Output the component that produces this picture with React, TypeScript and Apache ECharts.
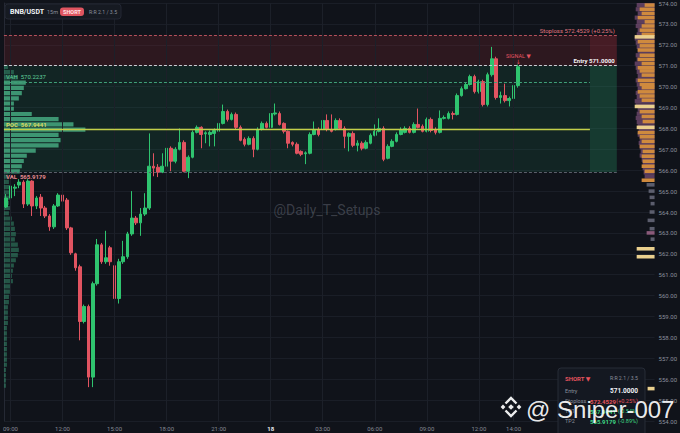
import React, { useEffect, useRef } from 'react';
import * as echarts from 'echarts';

// [open, close, low, high] per 15m candle
const candles: number[][] = [
  [564.24, 564.67, 564.19, 564.86],
  [564.67, 565.24, 564.62, 565.48],
  [565.14, 565.19, 564.76, 565.33],
  [565.29, 565.43, 565.14, 565.57],
  [565.43, 564.38, 564.19, 565.52],
  [564.38, 565.48, 564.29, 565.57],
  [565.48, 564.29, 563.81, 565.52],
  [564.29, 564.67, 564.14, 564.76],
  [564.71, 564.19, 563.81, 564.86],
  [564.19, 563.81, 563.71, 564.29],
  [563.81, 563.29, 563.10, 563.90],
  [563.29, 564.29, 563.19, 564.38],
  [564.29, 564.81, 564.24, 564.90],
  [564.81, 564.52, 564.43, 565.14],
  [564.57, 563.24, 563.14, 564.67],
  [563.24, 562.05, 561.95, 563.29],
  [562.00, 561.33, 561.19, 562.05],
  [561.38, 558.76, 557.86, 561.48],
  [558.76, 559.48, 558.67, 559.57],
  [559.48, 556.10, 555.62, 559.57],
  [556.10, 560.57, 555.62, 560.67],
  [560.57, 562.43, 560.48, 562.71],
  [562.43, 561.62, 561.52, 562.52],
  [561.62, 561.81, 561.52, 563.10],
  [562.29, 561.62, 561.43, 562.38],
  [561.43, 559.86, 559.29, 561.57],
  [559.86, 561.62, 559.62, 561.76],
  [561.62, 561.86, 561.52, 562.62],
  [561.86, 562.95, 561.76, 563.05],
  [562.95, 563.71, 562.86, 565.00],
  [563.71, 563.48, 563.38, 563.81],
  [563.48, 563.90, 562.86, 564.19],
  [563.90, 564.19, 563.81, 564.90],
  [564.19, 566.19, 564.10, 567.76],
  [566.19, 566.10, 565.71, 566.81],
  [566.14, 565.90, 565.67, 566.29],
  [565.90, 566.19, 565.86, 566.81],
  [566.19, 567.05, 566.14, 567.29],
  [567.05, 566.43, 565.95, 567.14],
  [566.43, 567.00, 566.33, 567.10],
  [567.00, 567.33, 566.95, 568.00],
  [567.33, 565.95, 565.90, 567.43],
  [565.95, 566.62, 565.62, 566.71],
  [566.62, 567.81, 566.57, 567.90],
  [567.81, 568.05, 567.76, 568.14],
  [568.05, 567.71, 567.05, 568.10],
  [567.74, 567.79, 567.29, 567.86],
  [567.71, 567.81, 567.14, 567.90],
  [567.76, 567.90, 567.14, 568.00],
  [567.86, 568.24, 567.81, 568.57],
  [568.24, 568.81, 568.19, 569.14],
  [568.81, 568.43, 568.33, 568.90],
  [568.43, 568.67, 568.38, 568.76],
  [568.67, 568.05, 567.95, 568.76],
  [568.05, 567.43, 567.38, 568.14],
  [567.48, 567.24, 567.14, 567.57],
  [567.24, 567.52, 567.19, 567.62],
  [567.52, 567.00, 566.62, 567.62],
  [567.00, 567.95, 566.95, 568.05],
  [567.95, 568.24, 567.90, 568.33],
  [568.24, 568.05, 568.00, 568.33],
  [568.05, 568.71, 568.00, 568.81],
  [568.69, 568.74, 568.62, 569.19],
  [568.71, 568.19, 568.14, 568.81],
  [568.24, 567.86, 567.76, 568.29],
  [567.86, 567.29, 567.05, 567.90],
  [567.33, 567.24, 567.14, 567.38],
  [567.24, 566.81, 566.76, 567.33],
  [566.90, 566.76, 566.67, 566.95],
  [566.79, 566.83, 566.29, 566.90],
  [566.81, 567.71, 566.76, 567.81],
  [567.71, 567.95, 567.67, 568.33],
  [567.95, 567.71, 567.62, 568.05],
  [567.95, 568.38, 567.90, 568.86],
  [568.38, 567.95, 567.86, 568.67],
  [567.95, 567.86, 567.81, 568.67],
  [567.95, 568.38, 567.90, 568.48],
  [568.38, 568.00, 567.95, 568.48],
  [568.00, 567.62, 567.05, 568.10],
  [567.62, 567.76, 566.90, 567.81],
  [567.76, 567.19, 567.10, 567.86],
  [567.19, 567.29, 566.90, 567.43],
  [567.29, 567.05, 566.95, 567.38],
  [567.05, 567.33, 567.00, 567.43],
  [567.29, 567.67, 567.24, 567.76],
  [567.67, 567.86, 567.62, 568.19],
  [567.86, 568.00, 567.81, 568.48],
  [568.00, 566.52, 566.43, 568.10],
  [566.57, 567.14, 566.52, 567.24],
  [567.14, 567.38, 567.10, 567.48],
  [567.38, 567.71, 567.33, 567.81],
  [567.71, 567.95, 567.67, 568.05],
  [567.81, 568.00, 567.76, 568.10],
  [568.00, 567.81, 567.76, 568.10],
  [567.81, 568.19, 567.76, 568.29],
  [568.19, 568.05, 568.00, 568.95],
  [568.10, 567.86, 567.81, 568.19],
  [567.86, 568.43, 567.81, 568.52],
  [568.43, 567.90, 567.81, 568.52],
  [567.95, 567.81, 567.71, 568.05],
  [567.81, 568.48, 567.76, 568.86],
  [568.48, 568.52, 568.43, 568.62],
  [568.48, 568.71, 568.43, 568.81],
  [568.71, 568.67, 568.43, 568.81],
  [568.67, 569.57, 568.62, 569.67],
  [569.57, 569.90, 569.52, 570.00],
  [569.90, 570.10, 569.86, 570.19],
  [570.10, 570.48, 570.05, 570.57],
  [570.48, 569.76, 569.67, 570.57],
  [569.76, 570.24, 569.67, 570.33],
  [570.24, 569.14, 569.05, 570.33],
  [569.14, 570.57, 569.05, 570.67],
  [570.57, 571.33, 570.48, 571.90],
  [571.33, 569.48, 569.38, 571.43],
  [569.48, 569.57, 569.19, 569.76],
  [569.57, 569.33, 569.24, 570.14],
  [569.33, 569.43, 569.05, 569.52],
  [569.43, 570.05, 569.00, 570.14],
  [570.05, 570.95, 569.95, 571.05],
];

const tickLabels = ['09:00', '12:00', '15:00', '18:00', '21:00', '18', '03:00', '06:00', '09:00', '12:00', '14:00'];
const tickSlots = [1, 13, 25, 37, 49, 61, 73, 85, 97, 109, 117];
const SLOTS = 150;

const stopLoss = 572.4529;
const entry = 571.0;
const vah = 570.2237;
const poc = 567.9441;
const val = 565.9179;
const tp1 = 567.9441;
const tp2 = 565.9179;
const rrText = 'R:R 2.1 / 3.5';

// left volume profile (price level, relative volume)
const leftPrices = [
  570.94, 570.69, 570.44, 570.19, 569.94, 569.69, 569.44, 569.19, 568.94, 568.69,
  568.44, 568.19, 567.94, 567.69, 567.44, 567.19, 566.94, 566.69, 566.44, 566.19,
  565.94, 565.69, 565.44, 565.19, 564.94, 564.69, 564.44, 564.19, 563.94, 563.69,
  563.44, 563.19, 562.94, 562.69, 562.44, 562.19, 561.94, 561.69, 561.44, 561.19,
  560.94, 560.69, 560.44, 560.19, 559.94, 559.69, 559.44, 559.19, 558.94, 558.69,
  558.44, 558.19, 557.94, 557.69, 557.44, 557.19, 556.94, 556.69, 556.44, 556.19,
  555.94, 555.69,
];
const leftVolumes = [
  4, 10, 14, 22, 20, 18, 15, 10, 10, 28,
  55, 70, 82, 55, 57, 55, 32, 23, 20, 18,
  16, 4, 5, 6, 5, 6, 5, 6, 5, 8,
  10, 11, 12, 11, 14, 15, 14, 12, 10, 9,
  8, 9, 7, 6, 5, 5, 4, 4, 4, 4,
  3, 3, 3, 3, 3, 3, 3, 3, 2, 2,
  2, 2,
];

// right volume profile: front bars (kind 0 orange, 1 pale, 2 grey, 3 mauve)
const rightPrices = [
  573.9, 573.7, 573.5, 573.3, 573.1, 572.9, 572.7, 572.5, 572.38, 572.15,
  571.95, 571.75, 571.5, 571.3, 571.1, 570.9, 570.75, 570.55, 570.3, 570.1,
  569.95, 569.75, 569.55, 569.35, 569.05, 568.8, 568.57, 568.33, 568.05, 567.8,
  567.6, 567.38, 567.14, 566.9, 566.67, 566.43, 566.19, 565.95, 565.52, 565.3,
  565.0, 564.7, 564.4, 564.0, 563.6, 563.2, 563.0, 562.7, 562.24, 561.86,
  555.55,
];
const rightVolumes = [
  10, 15, 13, 17, 10, 13, 15, 13, 20, 17,
  15, 17, 15, 17, 13, 17, 15, 13, 17, 15,
  13, 17, 15, 13, 20, 15, 13, 12, 18, 17,
  15, 13, 15, 12, 13, 12, 13, 10, 13, 8,
  6, 5, 4, 5, 7, 5, 8, 4, 18, 18,
  7,
];
const rightKinds = [
  0, 0, 0, 0, 0, 0, 0, 0, 1, 0,
  0, 0, 0, 0, 0, 0, 0, 0, 0, 0,
  0, 0, 0, 0, 1, 0, 0, 0, 1, 0,
  0, 0, 0, 0, 0, 0, 0, 0, 0, 2,
  2, 2, 2, 2, 2, 2, 3, 2, 1, 1,
  1,
];
// right volume profile: back (total) layer
const rightBackPrices = [
  573.9, 573.7, 573.5, 573.3, 573.1, 572.9, 572.7, 572.5, 572.3, 572.1,
  571.9, 571.7, 571.5, 571.3, 571.1, 570.9, 570.7, 570.5, 570.3, 570.1,
  569.9, 569.7, 569.5, 569.3, 569.1, 568.9, 568.7, 568.5, 568.3, 568.1,
  567.9, 567.7, 567.5, 567.3, 567.1, 566.9, 566.7, 566.5, 566.3, 566.1,
  565.9, 565.7,
];
const rightBackVolumes = [
  18, 19, 17, 20, 18, 19, 17, 18, 20, 19,
  18, 17, 19, 18, 20, 19, 18, 17, 19, 18,
  17, 19, 18, 20, 19, 17, 18, 19, 18, 17,
  16, 17, 15, 16, 15, 14, 15, 13, 12, 12,
  11, 10,
];

const BG = '#10131a';
const UP = '#2fc46f';
const DOWN = '#e25461';
const FONT = 'Roboto, "DejaVu Sans", sans-serif';
const GRID_W = 655;
const POC_END = 135.1;
const ZONE_END = 141.3;

const pct = (v: number) => {
  const p = ((v - entry) / entry) * 100;
  return (p >= 0 ? '+' : '') + p.toFixed(2) + '%';
};

function profileRenderer(h: number, colors: string[]) {
  return (params: any, api: any) => {
    const vol = api.value(0);
    const price = api.value(1);
    const kind = api.value(2);
    const a = api.coord([0, price + h / 2]);
    const b = api.coord([vol, price - h / 2]);
    return {
      type: 'rect',
      shape: { x: Math.min(a[0], b[0]), y: a[1], width: Math.abs(b[0] - a[0]), height: b[1] - a[1] },
      style: { fill: colors[kind] },
    };
  };
}

function txt(x: number, y: number, text: string, fill: string, size: number, opts: any = {}) {
  const align = opts.align || 'left';
  return {
    type: 'text',
    x,
    y,
    z: 100,
    style: {
      text,
      fill,
      fontSize: size,
      fontFamily: opts.family || FONT,
      fontWeight: opts.bold ? 'bold' : 'normal',
      textAlign: align,
      align,
      textVerticalAlign: 'middle',
      verticalAlign: 'middle',
    },
  };
}

function diamond(cx: number, cy: number, r: number) {
  return {
    type: 'polygon',
    z: 100,
    shape: { points: [[cx, cy - r], [cx + r, cy], [cx, cy + r], [cx - r, cy]] },
    style: { fill: 'rgba(255,255,255,0.92)' },
  };
}

function buildOption() {
  const categories = Array.from({ length: SLOTS }, (_, i) => 'c' + i);
  const tickMap = new Map<number, string>(tickSlots.map((s, k) => [s, tickLabels[k]]));

  const leftData = leftPrices.map((p, i) => [leftVolumes[i], p, p >= val - 0.05 && p <= vah + 0.05 ? 1 : 0]);
  const rightData = rightPrices.map((p, i) => [rightVolumes[i], p, rightKinds[i]]);
  const rightBack = rightBackPrices.map((p, i) => [rightBackVolumes[i], p, 0]);

  const gridLines = tickSlots.map((s) => ({ xAxis: s + 0.5 }));

  const lineLabel = (text: string, position: string, color: string, bold = false) => ({
    show: true,
    position,
    formatter: text,
    color,
    fontSize: 6,
    fontFamily: FONT,
    fontWeight: bold ? 'bold' : 'normal',
    distance: 2,
  });

  const levelLines: any[] = [
    [
      { coord: [0, stopLoss], lineStyle: { color: '#b4505b', type: [3, 2], width: 1 }, label: lineLabel(`Stoploss ${stopLoss.toFixed(4)} (${pct(stopLoss)})`, 'insideEndTop', '#e07680') },
      { coord: [ZONE_END, stopLoss] },
    ],
    [
      { coord: [0, entry], lineStyle: { color: '#c9ccd3', type: [3, 2], width: 1 }, label: lineLabel(`Entry ${entry.toFixed(4)}`, 'insideEndTop', '#f2f3f5', true) },
      { coord: [ZONE_END, entry] },
    ],
    [
      { coord: [0, vah], lineStyle: { color: '#3f9f78', type: [3, 2], width: 1 }, label: lineLabel(`VAH  ${vah.toFixed(4)}`, 'insideStartTop', '#5fcf9a') },
      { coord: [POC_END, vah] },
    ],
    [
      { coord: [0, poc], lineStyle: { color: '#c3cf48', type: 'solid', width: 1.3 }, label: lineLabel(`POC  ${poc.toFixed(4)}`, 'insideStartTop', '#d9d65c', true) },
      { coord: [POC_END, poc] },
    ],
    [
      { coord: [0, tp1], lineStyle: { opacity: 0 }, label: lineLabel(`TP1 ${tp1.toFixed(4)} (${pct(tp1)})`, 'insideEndTop', '#4fd08a') },
      { coord: [ZONE_END, tp1] },
    ],
    [
      { coord: [0, val], lineStyle: { color: '#5a5f6a', type: [3, 2], width: 1 }, label: lineLabel(`VAL  ${val.toFixed(4)}`, 'insideStartBottom', '#e68b90', true) },
      { coord: [ZONE_END, val] },
    ],
    [
      { coord: [0, tp2], lineStyle: { opacity: 0 }, label: lineLabel(`TP2 ${tp2.toFixed(4)} (${pct(tp2)})`, 'insideEndTop', '#4fd08a') },
      { coord: [ZONE_END, tp2] },
    ],
    [
      {
        coord: [ZONE_END, entry],
        lineStyle: { opacity: 0 },
        label: {
          show: true,
          position: 'end',
          formatter: entry.toFixed(2),
          color: '#e9fff1',
          backgroundColor: UP,
          padding: [2, 3, 1, 3],
          borderRadius: 1,
          fontSize: 6,
          fontFamily: FONT,
          distance: 3,
        },
      },
      { coord: [SLOTS, entry] },
    ],
  ];

  const lastIdx = candles.length - 1;
  const lastHigh = candles[lastIdx][3];

  return {
    animation: false,
    backgroundColor: BG,
    grid: { left: 0, right: 680 - GRID_W, top: 1, bottom: 12, containLabel: false },
    xAxis: [
      {
        type: 'category',
        data: categories,
        boundaryGap: true,
        axisLine: { show: false },
        axisTick: { show: false },
        splitLine: { show: false },
        axisLabel: {
          interval: (i: number) => tickMap.has(i),
          formatter: (v: string, i: number) => {
            const t = tickMap.get(i) || '';
            return t === '18' ? '{d|18}' : t;
          },
          color: '#858a96',
          fontSize: 6,
          fontFamily: FONT,
          margin: 4,
          rich: { d: { fontWeight: 'bold', color: '#e8eaef', fontSize: 6, fontFamily: FONT } },
        },
      },
      { type: 'value', min: 0, max: SLOTS, show: false },
      { type: 'value', min: 0, max: GRID_W, show: false },
      { type: 'value', min: 0, max: GRID_W, show: false, inverse: true },
    ],
    yAxis: {
      type: 'value',
      position: 'right',
      min: 554,
      max: 574,
      interval: 1,
      scale: false,
      axisLine: { show: true, lineStyle: { color: '#252934' } },
      axisTick: { show: false },
      axisLabel: { formatter: (v: number) => v.toFixed(2), color: '#8b909c', fontSize: 6, fontFamily: FONT, margin: 4 },
      splitLine: { show: true, lineStyle: { color: '#1a1e27', width: 1 } },
    },
    series: [
      {
        type: 'line',
        xAxisIndex: 1,
        data: [],
        z: 1,
        silent: true,
        markArea: {
          silent: true,
          data: [
            [{ coord: [0, stopLoss], itemStyle: { color: 'rgba(140,40,52,0.24)' } }, { coord: [POC_END, entry] }],
            [{ coord: [POC_END, stopLoss], itemStyle: { color: 'rgba(165,45,58,0.36)' } }, { coord: [ZONE_END, entry] }],
            [{ coord: [0, entry], itemStyle: { color: 'rgba(30,130,88,0.17)' } }, { coord: [POC_END, tp2] }],
            [{ coord: [POC_END, entry], itemStyle: { color: 'rgba(35,150,98,0.30)' } }, { coord: [ZONE_END, tp2] }],
          ],
        },
        markLine: {
          silent: true,
          symbol: ['none', 'none'],
          label: { show: false },
          lineStyle: { color: '#1c2029', type: 'solid', width: 1 },
          data: gridLines,
        },
      },
      {
        type: 'custom',
        xAxisIndex: 2,
        yAxisIndex: 0,
        z: 2,
        silent: true,
        encode: { x: 0, y: 1 },
        data: leftData,
        renderItem: profileRenderer(0.2, ['rgba(52,140,108,0.55)', 'rgba(72,178,134,0.8)']),
      },
      {
        type: 'custom',
        xAxisIndex: 3,
        yAxisIndex: 0,
        z: 2,
        silent: true,
        encode: { x: 0, y: 1 },
        data: rightBack,
        renderItem: profileRenderer(0.2, ['rgba(118,78,116,0.75)']),
      },
      {
        type: 'custom',
        xAxisIndex: 3,
        yAxisIndex: 0,
        z: 3,
        silent: true,
        encode: { x: 0, y: 1 },
        data: rightData,
        renderItem: profileRenderer(0.17, ['#cf8a3e', '#ead08e', 'rgba(110,112,130,0.8)', '#8a5a7a']),
      },
      {
        type: 'candlestick',
        xAxisIndex: 0,
        yAxisIndex: 0,
        z: 4,
        barWidth: '72%',
        data: candles,
        itemStyle: { color: UP, color0: DOWN, borderColor: UP, borderColor0: DOWN, borderWidth: 1 },
      },
      {
        type: 'line',
        xAxisIndex: 1,
        data: [],
        z: 5,
        silent: true,
        markLine: {
          silent: true,
          symbol: ['none', 'none'],
          data: levelLines,
        },
        markPoint: {
          silent: true,
          symbol: 'circle',
          symbolSize: 1,
          itemStyle: { color: 'rgba(0,0,0,0)' },
          data: [
            { coord: [lastIdx + 0.6, lastHigh + 0.42], label: { show: true, position: 'inside', formatter: 'SIGNAL ▼', color: '#e25461', fontSize: 5.5, fontFamily: FONT } },
            { coord: [lastIdx + 0.6, lastHigh + 0.13], label: { show: true, position: 'inside', formatter: '↓', color: '#e25461', fontSize: 6, fontFamily: FONT } },
          ],
        },
      },
    ],
    graphic: [
      // header badge
      { type: 'rect', z: 99, shape: { x: 5, y: 4, width: 116, height: 15, r: 3 }, style: { fill: '#161a22', stroke: '#232733', lineWidth: 1 } },
      txt(10, 11.5, 'BNB/USDT', '#f1f3f6', 7, { bold: true }),
      txt(47, 11.5, '15m', '#8a8f9b', 5.5),
      { type: 'rect', z: 100, shape: { x: 60, y: 7.5, width: 24, height: 8.5, r: 3 }, style: { fill: '#df5560' } },
      txt(72, 11.8, 'SHORT', '#ffe3e5', 5.5, { bold: true, align: 'center' }),
      txt(89, 11.5, rrText, '#8a8f9b', 5.2),
      // watermark
      txt(327, 210, '@Daily_T_Setups', 'rgba(150,156,168,0.33)', 14, { align: 'center' }),
      // trade info box
      { type: 'rect', z: 99, shape: { x: 558, y: 368, width: 87, height: 70, r: 3 }, style: { fill: '#141821', stroke: '#272c37', lineWidth: 1 } },
      txt(565, 378, 'SHORT ▼', '#e5535e', 6, { bold: true }),
      txt(638, 378, rrText, '#8a8f9b', 5.2, { align: 'right' }),
      txt(565, 391, 'Entry', '#8a8f9b', 5.5),
      txt(638, 391, entry.toFixed(4), '#f1f3f6', 6.5, { bold: true, align: 'right' }),
      txt(565, 401, 'Stoploss', '#8a8f9b', 5.5),
      txt(590, 401, stopLoss.toFixed(4), '#e5535e', 6, { bold: true }),
      txt(638, 401, `(${pct(stopLoss)})`, '#e5535e', 5.5, { align: 'right' }),
      txt(565, 411, 'TP1', '#8a8f9b', 5.5),
      txt(590, 411, tp1.toFixed(4), '#3fd684', 6, { bold: true }),
      txt(638, 411, `(${pct(tp1)})`, '#3fd684', 5.5, { align: 'right' }),
      txt(565, 421, 'TP2', '#8a8f9b', 5.5),
      txt(590, 421, tp2.toFixed(4), '#3fd684', 6, { bold: true }),
      txt(638, 421, `(${pct(tp2)})`, '#3fd684', 5.5, { align: 'right' }),
      // logo + author overlay
      diamond(511, 407, 2.8),
      diamond(503, 407, 2.4),
      diamond(519, 407, 2.4),
      { type: 'polyline', z: 100, shape: { points: [[505.5, 403.5], [511, 398], [516.5, 403.5]] }, style: { stroke: 'rgba(255,255,255,0.92)', lineWidth: 2.4, fill: 'none' } },
      { type: 'polyline', z: 100, shape: { points: [[505.5, 410.5], [511, 416], [516.5, 410.5]] }, style: { stroke: 'rgba(255,255,255,0.92)', lineWidth: 2.4, fill: 'none' } },
      txt(526, 409, '@ Sniper-007', 'rgba(255,255,255,0.93)', 24, { family: '"Liberation Sans", Arial, sans-serif' }),
    ],
  };
}

export default function App() {
  const ref = useRef<HTMLDivElement>(null);
  useEffect(() => {
    document.body.style.margin = '0';
    document.body.style.background = BG;
    const chart = echarts.init(ref.current as HTMLDivElement, null, { renderer: 'svg' });
    chart.setOption(buildOption() as any);
    return () => chart.dispose();
  }, []);
  return <div ref={ref} style={{ width: 680, height: 433 }} />;
}
